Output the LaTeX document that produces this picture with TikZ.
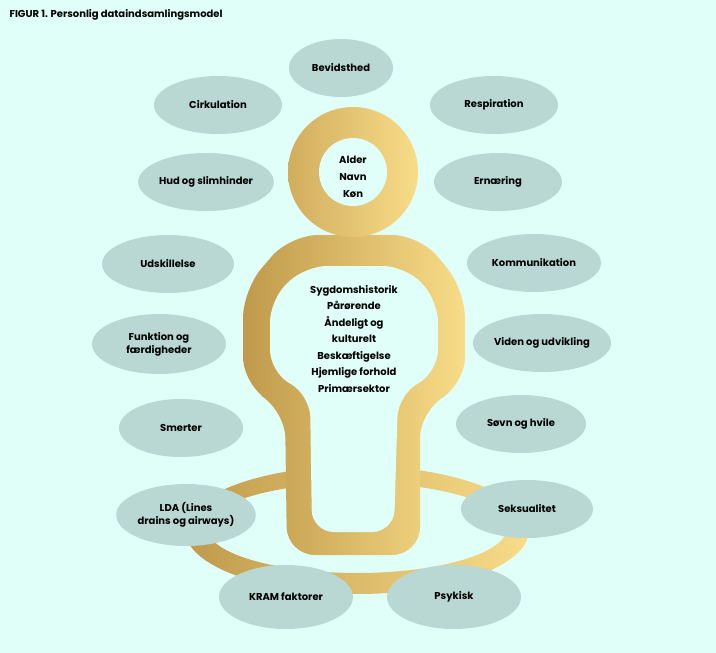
\documentclass[tikz,border=0pt]{standalone}
\usepackage{fontspec}
\setmainfont{Poppins}
\definecolor{bg}{HTML}{E0FFF8}
\definecolor{blob}{HTML}{B9D8D3}
\definecolor{gdark}{HTML}{C09A4C}
\definecolor{glight}{HTML}{F8DC88}
\begin{document}
\begin{tikzpicture}[x=1pt,y=-1pt,
  blob/.style={ellipse, fill=blob, minimum width=#1, minimum height=58pt, inner sep=1pt, align=center, font=\fontsize{10}{13}\selectfont\bfseries},
  blob/.default=128pt]
\usetikzlibrary{shapes.geometric}
\fill[bg] (0,0) rectangle (716,653);
\node[anchor=west, font=\fontsize{10}{11}\selectfont\bfseries] (title) at (6,15) {FIGUR 1. Personlig dataindsamlingsmodel};
% ring
\shade[left color=gdark, right color=glight, even odd rule] (357,530) ellipse [x radius=172, y radius=64] (357,528) ellipse [x radius=150, y radius=45];
% body
\shade[left color=gdark, right color=glight, rounded corners=28pt]
 (243,385)--(243,290)--(290,235)--(420,235)--(465,290)--(465,385)--(420,410)--(420,555)--(287,555)--(285,410)--cycle;
\fill[bg, rounded corners=22pt]
 (270,372)--(270,300)--(305,266)--(405,266)--(438,300)--(438,372)--(398,395)--(394,532)--(312,532)--(310,395)--cycle;
% head
\shade[left color=gdark!70!glight, right color=glight] (353,172) circle [radius=65];
\fill[bg] (353,172) circle [radius=34];
\node[font=\fontsize{10}{17}\selectfont\bfseries, align=center] (head) at (353,177) {Alder\\Navn\\Køn};
\node[font=\fontsize{10}{16.5}\selectfont\bfseries, align=center] (bodyt) at (354,339) {Sygdomshistorik\\Pårørende\\Åndeligt og\\kulturelt\\Beskæftigelse\\Hjemlige forhold\\Primærsektor};
% blobs
\node[blob=104pt] (b1) at (341,68) {Bevidsthed};
\node[blob] (b2) at (218,105) {Cirkulation};
\node[blob] (b3) at (494,105) {Respiration};
\node[blob=134pt] (b4) at (206,182) {Hud og slimhinder};
\node[blob] (b5) at (498,182) {Ernæring};
\node[blob=132pt] (b6) at (168,264) {Udskillelse};
\node[blob=134pt] (b7) at (534,263) {Kommunikation};
\node[blob=134pt, minimum height=60pt] (b8) at (159,344) {Funktion og\\færdigheder};
\node[blob=134pt] (b9) at (542,343) {Viden og udvikling};
\node[blob=124pt] (b10) at (181,428) {Smerter};
\node[blob=130pt] (b11) at (521,424) {Søvn og hvile};
\node[blob=132pt, minimum height=62pt] (b12) at (186,515) {LDA (Lines\\drains og airways)};
\node[blob=132pt] (b13) at (527,509) {Seksualitet};
\node[blob=134pt, minimum height=64pt] (b14) at (286,597) {KRAM faktorer};
\node[blob=134pt, minimum height=64pt] (b15) at (454,597) {Psykisk};
\end{tikzpicture}
\end{document}
